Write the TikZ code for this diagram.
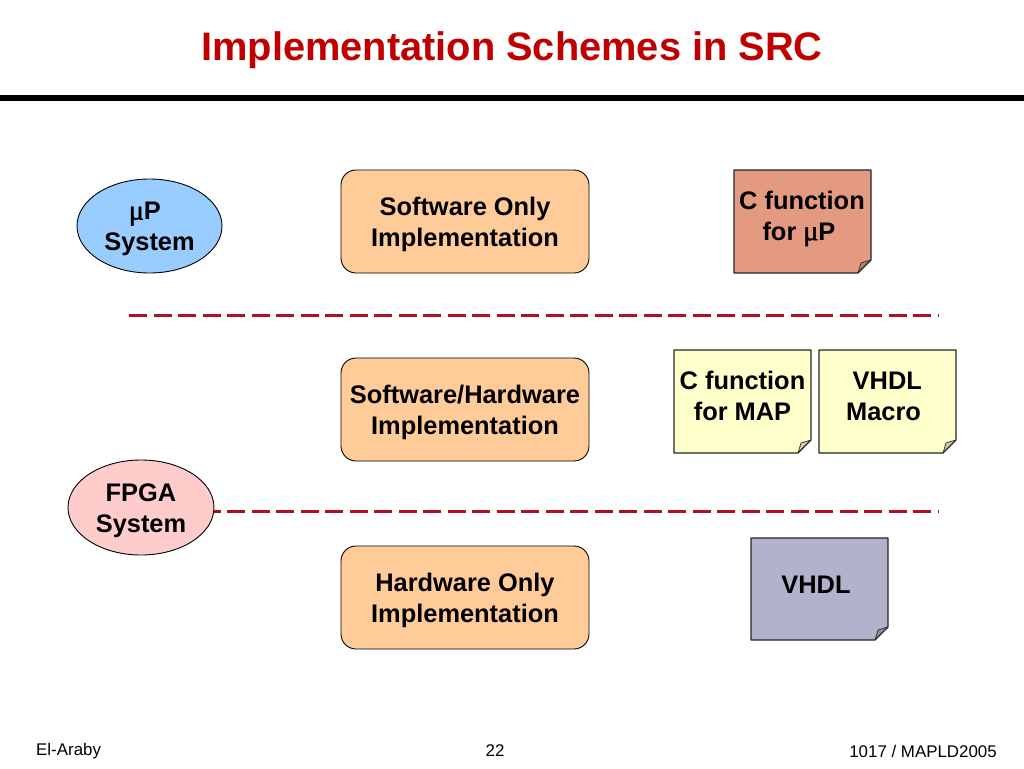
\documentclass[tikz,border=0pt]{standalone}
\usepackage{fontspec}
\setmainfont{Liberation Sans}
\newfontfamily\symfont[FakeBold=1.6]{Liberation Serif}
\definecolor{titlered}{HTML}{C00000}
\definecolor{dashred}{HTML}{B01020}
\definecolor{boxorange}{HTML}{FFCC99}
\definecolor{ellblue}{HTML}{99CCFF}
\definecolor{ellpink}{HTML}{FFCCCC}
\definecolor{noteyellow}{HTML}{FFFFCC}
\definecolor{notered}{HTML}{E39A80}
\definecolor{noteblue}{HTML}{B2B2CC}
\newcommand{\mup}{{\symfont\mdseries\fontsize{28}{31}\selectfont\char"03BC}P}
\tikzset{
  x=1pt,y=-1pt,
  label text/.style={font=\fontsize{25.4}{31}\selectfont\bfseries,text=black,align=center,inner sep=0pt},
  impl box/.style={draw=black,line width=0.9pt,fill=boxorange,rounded corners=15pt,minimum width=248pt,minimum height=103pt},
  sys ell/.style={ellipse,draw=black,line width=0.9pt},
  divider/.style={draw=dashred,line width=3pt,dash pattern=on 18pt off 6.5pt},
  foot/.style={font=\fontsize{16.9}{19}\selectfont,text=black,inner sep=0pt},
}
\usetikzlibrary{shapes.geometric}
% note: left, top, right, bottom, fill
\newcommand{\notebox}[5]{%
  \fill[#5] (#1,#2) -- (#3,#2) -- (#3,#4-13) -- (#3-13,#4) -- (#1,#4) -- cycle;
  \fill[#5!82!black] (#3,#4-13) -- (#3-13,#4) -- (#3-10,#4-10) -- cycle;
  \draw[black!85,line width=1.1pt,line join=round] (#1,#2) -- (#3,#2) -- (#3,#4-13) -- (#3-13,#4) -- (#1,#4) -- cycle;
  \draw[black!85,line width=0.7pt,line join=round] (#3,#4-13) -- (#3-10,#4-10) -- (#3-13,#4);
}
\begin{document}
\begin{tikzpicture}
\useasboundingbox (0,0) rectangle (1024,768);
\fill[white] (0,0) rectangle (1024,768);
\node[font=\fontsize{39.8}{48}\selectfont\bfseries,text=titlered,inner sep=0pt] (title) at (512,50) {Implementation Schemes in SRC};
\coordinate (ruleL) at (0,98); \coordinate (ruleR) at (1024,98);
\draw[black,line width=6pt] (ruleL) -- (ruleR);

\coordinate (d1a) at (129,315); \coordinate (d1b) at (938,315);
\coordinate (d2a) at (129,511); \coordinate (d2b) at (938,511);
\draw[divider] (d1a) -- (d1b);
\draw[divider] (d2a) -- (d2b);

\node[sys ell,fill=ellblue,minimum width=145pt,minimum height=94pt] (mup) at (149.5,226) {};
\node[label text] (muptext) at (149.5,229) {\hspace*{-0.18em}\mup\hspace*{0.18em}\\System};
\node[sys ell,fill=ellpink,minimum width=146pt,minimum height=95pt] (fpga) at (141,507.5) {};
\node[label text] (fpgatext) at (141,510.5) {FPGA\\System};

\node[impl box] (sw) at (465,221.5) {};
\node[label text] (swtext) at (465,224.5) {Software Only\\Implementation};
\node[impl box] (swhw) at (465,409.5) {};
\node[label text] (swhwtext) at (465,412.5) {Software/Hardware\\Implementation};
\node[impl box] (hw) at (465,597.5) {};
\node[label text] (hwtext) at (465,600.5) {Hardware Only\\Implementation};

\notebox{734}{170}{871}{273}{notered}
\node[label text] (cmup) at (802,218.5) {C function\\\hspace*{-0.12em}for \mup\hspace*{0.12em}};
\notebox{674}{350}{811}{453}{noteyellow}
\node[label text] (cmap) at (742.5,396) {C function\\for MAP};
\notebox{819}{350}{956}{453}{noteyellow}
\node[label text,align=left] (vmac) at (884,396) {\hspace*{0.26em}VHDL\\Macro};
\notebox{751}{538}{888}{640}{noteblue}
\node[label text] (vhdl) at (816,585) {VHDL};

\node[foot,anchor=west] (fl) at (36,751) {El-Araby};
\node[foot] (fc) at (495,751) {22};
\node[foot,anchor=east] (fr) at (997,751) {1017 / MAPLD2005};
\end{tikzpicture}
\end{document}
